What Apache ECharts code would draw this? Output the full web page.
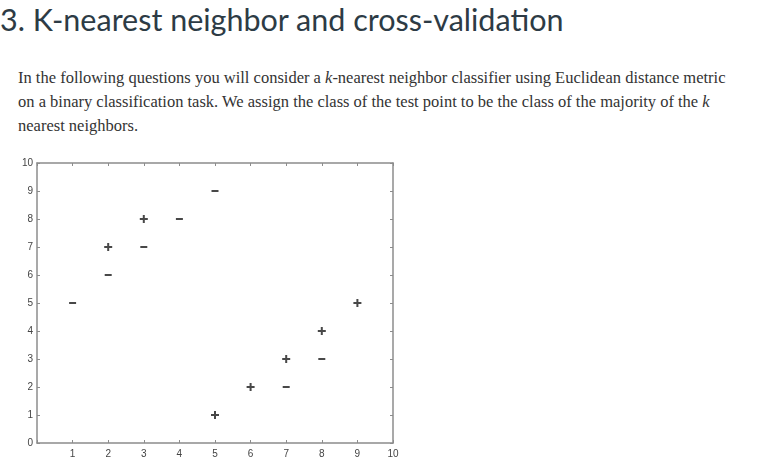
<!DOCTYPE html>
<html>
<head>
<meta charset="utf-8">
<script src="https://cdn.jsdelivr.net/npm/echarts@6/dist/echarts.min.js"></script>
<style>
  body { margin: 0; background: #fff; width: 758px; height: 473px; overflow: hidden; position: relative; }
  h2 { position: absolute; left: 0; top: 1px; margin: 0; font: 400 30.5px Lato, sans-serif; color: #2d3b45; }
  p { position: absolute; left: 18px; top: 66px; margin: 0; white-space: nowrap; font: 16.5px "Liberation Serif", serif; line-height: 24px; color: #333; }
  #chart_knn { position: absolute; left: 0; top: 150px; width: 420px; height: 323px; }
</style>
</head>
<body>
<h2>3. K-nearest neighbor and cross-validation</h2>
<p>In the following questions you will consider a <i>k</i>-nearest neighbor classifier using Euclidean distance metric<br>on a binary classification task. We assign the class of the test point to be the class of the majority of the <i>k</i><br>nearest neighbors.</p>
<div id="chart_knn"></div>
<script>
// training points
const plusX = [2, 3, 5, 6, 7, 8, 9];
const plusY = [7, 8, 1, 2, 3, 4, 5];
const minusX = [1, 2, 3, 4, 5, 7, 8];
const minusY = [5, 6, 7, 8, 9, 2, 3];

const axisColor = "#8c8c8c";
const labelStyle = { color: "#444", fontSize: 10, fontFamily: "Liberation Sans, Arial, sans-serif" };

const chartInstance_knn = echarts.init(document.getElementById("chart_knn"));
const frameAxis = (pos, showLabel) => ({
  type: "value",
  position: pos,
  min: 0,
  max: 10,
  interval: 1,
  axisLine: { show: true, onZero: false, lineStyle: { color: axisColor, width: 1.5 } },
  axisTick: { show: true, inside: true, length: 3, lineStyle: { color: axisColor } },
  splitLine: { show: false },
  axisLabel: showLabel
    ? Object.assign({ margin: 4 }, labelStyle)
    : { show: false },
});

let option = {
  animation: false,
  grid: { left: 37, top: 13, width: 356, height: 280 },
  xAxis: [
    Object.assign(frameAxis("bottom", true), {
      axisLabel: Object.assign({ margin: 6, formatter: (v) => (v === 0 ? "" : v) }, labelStyle),
    }),
    frameAxis("top", false),
  ],
  yAxis: [frameAxis("left", true), frameAxis("right", false)],
  series: [
    {
      name: "+",
      type: "scatter",
      symbol: "path://M3,0H5V3H8V5H5V8H3V5H0V3H3Z",
      symbolSize: 8,
      itemStyle: { color: "#1a1a1a" },
      data: plusX.map((x, i) => [x, plusY[i]]),
    },
    {
      name: "-",
      type: "scatter",
      symbol: "rect",
      symbolSize: [7, 2],
      itemStyle: { color: "#1a1a1a" },
      data: minusX.map((x, i) => [x, minusY[i]]),
    },
  ],
};
chartInstance_knn.setOption(option);
</script>
</body>
</html>
